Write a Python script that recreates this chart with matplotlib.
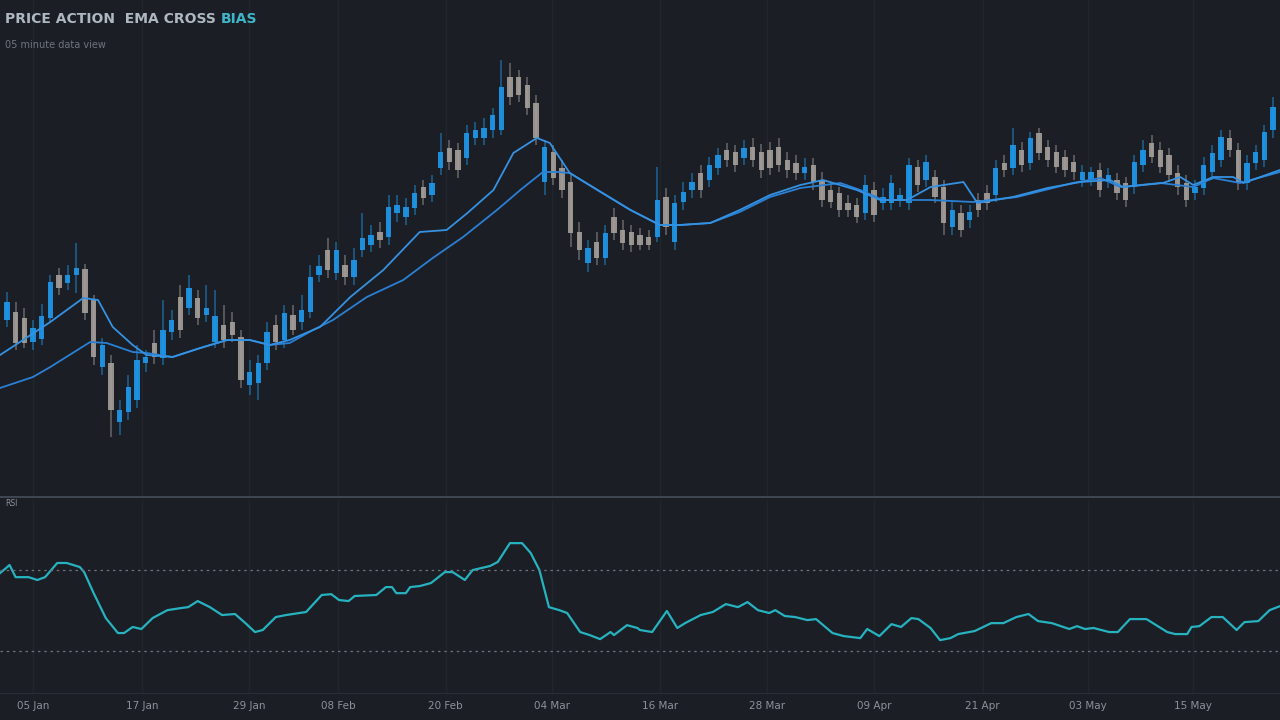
#
#   Candlestick chart with two EMAs
#   and an RSI panel below
#
#######################################

import numpy as np
import matplotlib
matplotlib.use('Agg')
import matplotlib.pyplot as plt
from matplotlib import rcParams

BG = '#1b1e25'
rcParams['font.family'] = ['DejaVu Sans']
rcParams['figure.facecolor'] = BG
rcParams['axes.facecolor'] = BG
rcParams['savefig.facecolor'] = BG
rcParams['lines.solid_joinstyle'] = 'round'

# ---- candles (one per bar) ----
opens = [180, 188, 182, 158, 161, 182, 225, 217, 225, 231,
         200, 133, 137, 78, 88, 100, 137, 157, 142, 168,
         203, 192, 202, 185, 158, 175, 178, 163, 115, 117,
         137, 175, 160, 185, 178, 188, 225, 250, 227, 235,
         223, 250, 255, 268, 263, 287, 283, 292, 313, 305,
         332, 352, 350, 342, 362, 362, 370, 370, 423, 423,
         415, 397, 318, 348, 332, 318, 268, 237, 258, 242,
         283, 270, 268, 265, 263, 263, 303, 258, 298, 310,
         327, 320, 332, 350, 348, 342, 353, 348, 350, 353,
         340, 337, 327, 335, 320, 310, 307, 297, 295, 287,
         310, 297, 297, 300, 297, 333, 320, 323, 313, 273,
         287, 280, 300, 307, 305, 337, 332, 350, 337, 367,
         353, 348, 343, 338, 320, 320, 330, 318, 320, 317,
         313, 335, 357, 350, 345, 327, 317, 307, 312, 328,
         340, 362, 350, 317, 337, 340, 370]
closes = [198, 157, 157, 172, 184, 218, 212, 225, 232, 187,
          143, 155, 90, 90, 113, 140, 143, 143, 170, 180,
          170, 212, 182, 192, 184, 160, 165, 120, 128, 137,
          168, 158, 187, 170, 190, 223, 234, 230, 250, 223,
          240, 262, 265, 260, 293, 295, 293, 307, 302, 317,
          348, 338, 330, 367, 370, 372, 385, 413, 403, 405,
          392, 362, 353, 322, 310, 267, 250, 252, 242, 267,
          267, 257, 255, 255, 255, 300, 273, 297, 308, 318,
          310, 335, 345, 340, 335, 352, 340, 330, 332, 335,
          330, 327, 333, 318, 300, 298, 290, 290, 283, 315,
          285, 303, 317, 305, 335, 315, 338, 303, 277, 290,
          270, 288, 290, 297, 332, 330, 355, 335, 362, 347,
          340, 333, 330, 328, 328, 328, 310, 325, 307, 300,
          338, 350, 343, 333, 325, 313, 300, 313, 335, 347,
          363, 350, 317, 337, 348, 368, 393]
highs = [208, 198, 192, 180, 196, 225, 232, 235, 257, 236,
         205, 162, 145, 100, 125, 155, 150, 170, 200, 190,
         215, 225, 210, 215, 210, 195, 188, 170, 140, 145,
         178, 185, 195, 195, 205, 235, 245, 262, 258, 245,
         252, 287, 275, 278, 305, 305, 302, 315, 320, 325,
         367, 360, 357, 375, 378, 382, 392, 440, 437, 430,
         423, 405, 360, 355, 340, 325, 278, 260, 268, 275,
         292, 280, 275, 272, 270, 333, 312, 305, 318, 327,
         335, 343, 352, 357, 355, 360, 362, 356, 358, 362,
         348, 345, 342, 342, 328, 318, 313, 305, 302, 325,
         318, 312, 325, 312, 342, 340, 345, 330, 320, 298,
         295, 295, 307, 315, 340, 345, 372, 358, 368, 372,
         360, 355, 350, 345, 335, 333, 337, 332, 327, 323,
         345, 360, 365, 358, 352, 335, 325, 320, 343, 355,
         370, 370, 357, 345, 355, 375, 403]
lows = [173, 150, 152, 150, 155, 178, 205, 210, 207, 180,
        135, 125, 63, 65, 80, 92, 128, 136, 135, 160,
        162, 185, 175, 178, 152, 152, 158, 112, 105, 100,
        130, 150, 152, 165, 170, 182, 218, 222, 220, 215,
        215, 243, 248, 252, 255, 278, 275, 285, 295, 298,
        325, 330, 322, 335, 355, 355, 362, 365, 395, 398,
        385, 355, 305, 315, 302, 253, 240, 228, 235, 235,
        260, 250, 248, 250, 250, 258, 265, 250, 290, 302,
        302, 313, 325, 333, 328, 335, 333, 322, 325, 328,
        322, 320, 320, 310, 293, 292, 283, 283, 277, 280,
        278, 290, 290, 293, 290, 308, 313, 297, 265, 265,
        263, 272, 283, 290, 298, 323, 325, 328, 330, 340,
        333, 327, 323, 320, 313, 314, 303, 312, 300, 293,
        306, 328, 337, 327, 318, 305, 293, 300, 305, 320,
        333, 343, 310, 310, 330, 333, 362]

# ---- moving averages (bar position, price) ----
ema_fast_x = [-0.8, 1.5, 5.0, 8.8, 10.5, 12.2, 14.5, 16.1, 19.1, 22.3, 25.4, 28.0,
              30.3, 32.6, 36.1, 39.6, 43.4, 47.6, 50.7, 53.1, 56.1, 58.4, 61.1, 62.6,
              64.9, 68.1, 71.9, 75.3, 77.6, 81.1, 84.5, 88.0, 91.5, 94.1, 98.0, 100.7,
              103.8, 106.5, 110.3, 111.9, 116.0, 120.0, 123.8, 127.2, 128.7, 133.3,
              135.3, 136.8, 139.1, 141.4, 142.6, 146.8]
ema_fast = [145, 158, 178, 202, 200, 173, 155, 145, 143, 152, 160, 160,
            155, 160, 173, 203, 230, 268, 270, 287, 310, 347, 362, 357,
            327, 310, 290, 275, 275, 277, 290, 305, 315, 320, 310, 300,
            300, 313, 318, 297, 303, 312, 318, 320, 313, 317,
            323, 315, 323, 323, 317, 330]
ema_slow_x = [-0.8, 3.0, 5.0, 9.6, 11.5, 14.5, 16.1, 19.1, 22.3, 25.4, 28.0, 30.3,
              32.6, 35.3, 37.6, 41.5, 45.7, 49.1, 52.6, 56.5, 59.2, 61.8, 63.4, 64.9,
              68.1, 71.9, 75.3, 77.6, 81.1, 84.5, 88.0, 91.5, 96.1, 98.4, 101.0, 106.5,
              111.4, 116.5, 122.9, 126.1, 128.4, 133.0, 136.8, 139.1, 142.2, 146.8]
ema_slow = [112, 123, 133, 158, 157, 148, 147, 143, 152, 160, 160, 155,
            157, 170, 180, 203, 220, 242, 263, 290, 310, 328, 328, 327,
            310, 290, 275, 275, 277, 288, 303, 312, 317, 310, 300, 300,
            298, 303, 317, 322, 313, 317, 313, 322, 317, 328]

# ---- RSI ----
rsi_x = [-0.8, -0.1, 0.3, 1.0, 2.5, 3.5, 4.4, 5.8, 6.9, 8.4, 8.9, 10.0, 11.4, 12.8,
         13.5, 14.5, 15.5, 16.8, 18.5, 20.0, 20.9, 22.0, 23.4, 24.8, 26.3, 27.5,
         28.6, 29.5, 31.0, 32.2, 34.5, 36.3, 37.4, 38.3, 39.4, 40.1, 42.6, 43.7,
         44.4, 44.9, 46.0, 46.5, 47.6, 48.9, 50.5, 51.4, 52.8, 53.7, 55.7, 56.6,
         58.0, 59.4, 60.4, 61.4, 62.5, 63.7, 64.6, 66.1, 67.2, 68.4, 69.6, 70.0,
         71.5, 72.7, 73.0, 74.4, 76.1, 77.3, 78.2, 80.0, 81.4, 82.9, 84.3, 85.4,
         86.6, 87.9, 88.6, 89.7, 90.9, 92.3, 93.3, 95.2, 96.5, 98.4, 99.2, 100.6,
         102.0, 103.1, 104.3, 105.1, 106.5, 107.6, 108.8, 109.7, 111.6, 113.5,
         114.9, 116.4, 117.8, 118.9, 120.5, 122.5, 123.4, 124.3, 125.3, 127.1,
         128.1, 129.5, 131.4, 133.8, 134.7, 136.1, 136.6, 137.5, 138.9, 140.2,
         141.8, 142.7, 144.3, 145.6, 146.8]
rsi = [68.5, 71.0, 72.5, 66.5, 66.5, 65.1, 66.5, 73.5, 73.5, 71.5, 69.0, 58.6, 46.3, 38.9,
       38.9, 41.9, 40.9, 46.3, 50.2, 51.2, 51.7, 54.7, 51.7, 47.8, 48.3, 43.8,
       39.4, 40.4, 46.8, 47.8, 49.3, 57.7, 58.1, 55.2, 54.7, 57.2, 57.7, 61.6,
       61.6, 58.6, 58.6, 61.6, 62.1, 63.6, 69.0, 69.0, 65.1, 70.0, 72.0, 74.0,
       83.3, 83.3, 78.4, 70.0, 51.7, 50.2, 48.8, 39.4, 37.9, 35.9, 39.4, 37.9,
       42.8, 41.4, 40.4, 39.4, 49.8, 41.4, 43.8, 47.8, 49.3, 53.2, 51.7, 54.2,
       50.2, 48.8, 50.2, 47.3, 46.8, 45.3, 45.8, 38.9, 37.4, 36.4, 40.9, 37.4,
       43.3, 41.9, 46.3, 45.8, 41.4, 35.4, 36.4, 38.4, 39.9, 43.8,
       43.8, 46.8, 48.3, 44.8, 43.8, 40.9, 42.3, 40.9, 41.4, 39.4,
       39.4, 45.8, 45.8, 39.4, 38.4, 38.4, 41.9, 42.3, 46.8, 46.8,
       40.4, 44.3, 44.8, 50.2, 52.2]
rsi_levels = [70, 30]

tick_pos = [3.0, 15.6, 27.9, 38.2, 50.6, 62.9, 75.3, 87.7, 100.0, 112.5, 124.7, 136.8]
tick_labels = ['05 Jan', '17 Jan', '29 Jan', '08 Feb', '20 Feb', '04 Mar',
               '16 Mar', '28 Mar', '09 Apr', '21 Apr', '03 May', '15 May']

UP = '#1f9cf0'
DOWN = '#a8a29c'

fig = plt.figure(figsize=(12.8, 7.2), dpi=100)
ax = fig.add_axes([0, 1 - 497 / 720, 1, 497 / 720])
ax_rsi = fig.add_axes([0, 27 / 720, 1, 193 / 720])

for a in (ax, ax_rsi):
    for s in a.spines.values():
        s.set_visible(False)
    a.set_xlim(-0.8, 146.8)
    a.set_xticks(tick_pos)
    a.grid(axis='x', color='#21252c', lw=1)
    a.set_axisbelow(True)
    a.set_yticks([])

# candles
o = np.array(opens, float)
c = np.array(closes, float)
idx = np.arange(len(o))
cols = np.where(c >= o, UP, DOWN)
ax.vlines(idx, lows, highs, colors=cols, lw=1.1, alpha=0.55)
ax.bar(idx, np.abs(c - o), bottom=np.minimum(o, c), width=0.62,
       color=cols, alpha=0.88, lw=0)

ax.plot(ema_slow_x, ema_slow, color='#2a80d4', lw=1.3)
ax.plot(ema_fast_x, ema_fast, color='#3592e2', lw=1.3)
ax.set_ylim(3, 500)
ax.spines['bottom'].set_visible(True)
ax.spines['bottom'].set_color('#46505a')
ax.spines['bottom'].set_linewidth(1.2)
ax.tick_params(axis='x', length=0, labelbottom=False)

# rsi panel
ax_rsi.plot(rsi_x, rsi, color='#27b2c0', lw=1.6)
for lv in rsi_levels:
    ax_rsi.axhline(lv, color='#6c737c', lw=0.9, ls=(0, (2, 3)))
ax_rsi.set_ylim(9.3, 104.6)
ax_rsi.spines['bottom'].set_visible(True)
ax_rsi.spines['bottom'].set_color('#2a2f37')
ax_rsi.set_xticklabels(tick_labels)
ax_rsi.tick_params(axis='x', length=0, colors='#8b929b', labelsize=7.5, pad=6)

# titles
t = fig.text(0.004, 1 - 19 / 720, 'PRICE ACTION  EMA CROSS ', color='#aeb8c0',
             fontsize=10, fontweight='bold', va='center')
ax.annotate('BIAS', xy=(1, 0), xycoords=t, va='bottom', color='#3fb6c8',
            fontsize=10, fontweight='bold')
fig.text(0.004, 1 - 45 / 720, '05 minute data view', color='#6e757e', fontsize=7,
         va='center')
fig.text(0.004, 1 - 503 / 720, 'RSI', color='#8a9098', fontsize=5.5, va='center')

fig.savefig('out.png', dpi=100)
